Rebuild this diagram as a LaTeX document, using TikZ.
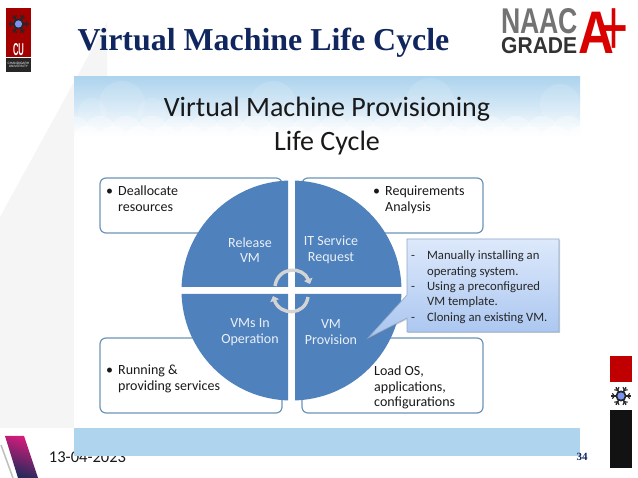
\documentclass[tikz,border=0pt]{standalone}
\usepackage{fontspec}
\usepackage{graphicx}
\setmainfont{Carlito}
\newfontfamily\titlefont{Liberation Serif}
\newfontfamily\logofont{Liberation Sans}
\usetikzlibrary{positioning,arrows.meta,shadows,calc}

\definecolor{quadblue}{HTML}{4F81BD}
\definecolor{boxline}{HTML}{6B95B8}
\definecolor{skyblue}{HTML}{AED4EE}
\definecolor{navytitle}{HTML}{10265F}
\definecolor{curred}{HTML}{C00000}
\definecolor{calloutline}{HTML}{8FA9C8}
\definecolor{callouttop}{HTML}{DDE9FB}
\definecolor{calloutbot}{HTML}{A9C5F0}
\definecolor{markpink}{HTML}{D81B7C}
\definecolor{marknavy}{HTML}{1E2A5A}

\tikzset{
  infobox/.style={draw=boxline, line width=1.2pt, rounded corners=6pt, fill=white},
  boxtext/.style={font=\fontsize{14}{15.3}\selectfont, align=left, anchor=north west, inner sep=0pt, text=black!90},
  quadtext/.style={font=\fontsize{14}{15.5}\selectfont, align=center, text=white!88!quadblue},
  cyclearc/.style={draw=black!17, line width=3.4pt, -{Triangle[width=9pt,length=5pt]}},
  flake/.pic={
    \foreach \ang in {0,60,...,300} {
      \draw[black!85, line width=1.5pt] (0,0) -- (\ang:10);
      \draw[black!85, line width=1.1pt] (\ang:6.5) -- ++(\ang+50:3.5) (\ang:6.5) -- ++(\ang-50:3.5);
    }
    \fill[black!85] (0,0) circle (5.5);
    \fill[skyblue!70!blue] (0,0) circle (3.6);
  }
}
\newcommand{\bulletbox}[2]{\begin{tabular}{@{}l@{\hspace{5pt}}l@{}}\textbullet & #1\\ & #2\end{tabular}}

\begin{document}
\begin{tikzpicture}[x=1pt,y=-1pt]
\useasboundingbox (0,0) rectangle (638,478);

% slide background
\fill[white] (0,0) rectangle (638,478);
\fill[black!4] (107,22) -- (0,217) -- (0,428) -- (74,428) -- (74,77) -- (107,77) -- cycle;

% date sits under the picture
\node[font=\fontsize{16.5}{18}\selectfont, text=black!90] (date) at (87.5,457) {13-04-2023};

% picture panel with sky
\fill[white] (74,77) rectangle (580,428);
\begin{scope}
\clip (74,77) rectangle (580,136);
\shade[top color=skyblue, bottom color=white, middle color=skyblue!55] (74,77) rectangle (580,136);
\foreach \cx/\cy/\cr in {122/104/23,92/112/14,152/112/14,273/104/23,243/112/14,303/112/14,430/102/24,400/112/14,460/112/14,560/104/20}
  \fill[white, opacity=0.13] (\cx,\cy) circle (\cr);
\foreach \cx in {74,100,...,600} {
  \fill[white, opacity=0.3] (\cx,132) circle (16);
  \fill[white, opacity=0.5] (\cx+13,142) circle (16);
}
\end{scope}
\fill[skyblue] (74,428) rectangle (580,456);

% outer boxes
\draw[infobox] (100,178) rectangle (282,233);
\draw[infobox] (302,178) rectangle (483,233);
\draw[infobox] (100,338) rectangle (282,413);
\draw[infobox] (302,338) rectangle (483,413);

% four quadrants of the cycle
\coordinate (ctr) at (291.5,290.5);
\begin{scope}
\clip (170,170) rectangle (288,287) (295,170) rectangle (410,287)
      (170,294) rectangle (288,410) (295,294) rectangle (410,410);
\fill[quadblue] (ctr) circle (110);
\end{scope}

% arrows in the middle
\coordinate (arcA) at (275,286);
\coordinate (arcB) at (310,284);
\coordinate (arcC) at (308,297);
\coordinate (arcD) at (273,296);
\draw[cyclearc] (arcA) .. controls (278,266) and (303,266) .. (arcB);
\draw[cyclearc] (arcC) .. controls (305,316) and (280,316) .. (arcD);

% callout
\coordinate (tip) at (368,338);
\draw[draw=calloutline, line width=0.6pt, top color=callouttop, bottom color=calloutbot, drop shadow={shadow xshift=1pt, shadow yshift=-1pt, opacity=0.35}]
  (407,239) -- (559,239) -- (559,332) -- (407,332) -- (407,318) -- (tip) -- (407,295) -- cycle;
\node[font=\fontsize{12.7}{15.3}\selectfont, align=left, anchor=north west, inner sep=0pt, text=black!85] (callouttext) at (411,249)
  {\begin{tabular}{@{}l@{\hspace{12pt}}l@{}}- & Manually installing an\\ & operating system.\\- & Using a preconfigured\\ & VM template.\\- & Cloning an existing VM.\end{tabular}};

% headings
\node[font=\titlefont\bfseries\fontsize{31.9}{36}\selectfont, text=navytitle] (title) at (263.5,42.5) {Virtual Machine Life Cycle};
\node[font=\fontsize{28}{34}\selectfont, align=center, text=black!90] (panelhead) at (327,126) {Virtual Machine Provisioning\\Life Cycle};

% quadrant labels
\node[quadtext] (release) at (250,250) {Release\\VM};
\node[quadtext] (request) at (331,250) {IT Service\\Request};
\node[quadtext] (operation) at (250,332) {VMs In\\Operation};
\node[quadtext] (provision) at (331,332) {VM\\Provision};

% box texts
\node[boxtext] (dealloc) at (106,185) {\bulletbox{Deallocate}{resources}};
\node[boxtext] (require) at (373,185) {\bulletbox{Requirements}{Analysis}};
\node[boxtext] (running) at (106,364) {\bulletbox{Running \&}{providing services}};
\node[boxtext] (loados) at (374,366) {Load OS,\\applications,\\configurations};

% CU logo
\fill[curred!85!black] (6,8) rectangle (31,57);
\fill[black!85] (6,58) rectangle (31,72);
\pic at (18.5,24) {flake};
\node[inner sep=0pt, text=white] (culogo) at (18.5,49.5) {\resizebox{11pt}{12pt}{\logofont\bfseries CU}};
\node[font=\logofont\fontsize{3.2}{3.6}\selectfont, align=center, text=white, inner sep=0pt] (cuname) at (18.5,65) {CHANDIGARH\\UNIVERSITY};

% NAAC logo
\node[inner sep=0pt, anchor=north west, text=black!55] (naac) at (501,8) {\resizebox{77pt}{25pt}{\logofont\bfseries NAAC}};
\node[inner sep=0pt, anchor=north west, text=black!80] (grade) at (501,37) {\resizebox{76pt}{16pt}{\logofont\bfseries GRADE}};
\node[inner sep=0pt, anchor=north west, text=red!85!black] (gradeA) at (578,8) {\resizebox{50pt}{45pt}{\logofont\bfseries A\kern-.3em\raisebox{-.03em}{\scalebox{1}[1.35]{\mdseries +}}}};

% side strip and page number
\fill[curred] (610,356) rectangle (632,382);
\pic at (621,396) {flake};
\fill[black!93] (610,410) rectangle (632,468);
\node[font=\titlefont\bfseries\fontsize{11}{12}\selectfont, text=navytitle] (pagenum) at (582,457) {34};

% corner mark
\shade[left color=markpink, right color=marknavy, shading angle=-20] (5,436) -- (24,436) -- (38,478) -- (18,478) -- cycle;
\draw[black!25, line width=1.5pt] (1,445) -- (13,478);
\end{tikzpicture}
\end{document}
